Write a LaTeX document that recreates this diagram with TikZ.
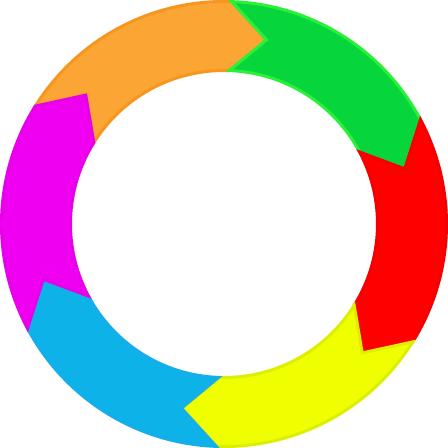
\documentclass[tikz,border=0pt]{standalone}
\definecolor{orF}{HTML}{FBA634}
\definecolor{orD}{HTML}{F7961E}
\definecolor{grF}{HTML}{06D63C}
\definecolor{grD}{HTML}{2AF038}
\definecolor{reF}{HTML}{FF0000}
\definecolor{reD}{HTML}{F50000}
\definecolor{yeF}{HTML}{F0FF00}
\definecolor{yeD}{HTML}{DCEF00}
\definecolor{blF}{HTML}{0DB2E8}
\definecolor{blD}{HTML}{14AEEA}
\definecolor{maF}{HTML}{F000F0}
\definecolor{maD}{HTML}{E800E8}
\begin{document}
\begin{tikzpicture}[x=1pt,y=1pt, seg/.style={line width=3pt, line join=miter}]
\fill[white] (-224,-224) rectangle (224,224);
\useasboundingbox (-224,-224) rectangle (224,224);
\foreach \a/\f/\d in {148/orF/orD, 88/grF/grD, 28/reF/reD, -32/yeF/yeD, -92/blF/blD, -152/maF/maD} {
  \pgfmathsetmacro\b{\a-60}
  \pgfmathsetmacro\t{\b-11}
  \pgfmathsetmacro\n{\a-11}
  \filldraw[seg, fill=\f, draw=\d] (\a:222.5) arc[start angle=\a, end angle=\b, radius=222.5] -- (\t:189) -- (\b:153.5) arc[start angle=\b, end angle=\a, radius=153.5] -- (\n:189) -- cycle;
}
\end{tikzpicture}
\end{document}
